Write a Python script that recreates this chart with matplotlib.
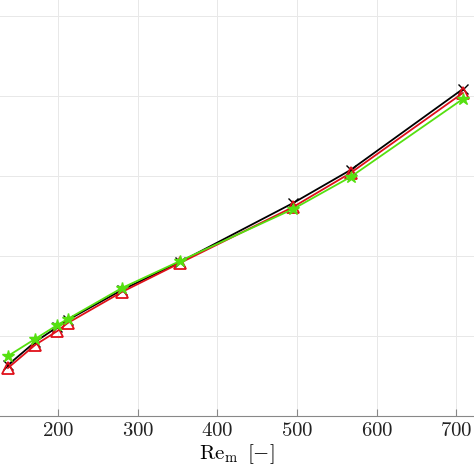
import matplotlib
matplotlib.use("Agg")
import matplotlib.pyplot as plt

plt.rcParams['mathtext.fontset'] = 'cm'
plt.rcParams['font.family'] = 'DejaVu Serif'

re_m = [137, 171, 199, 212, 280, 353, 495, 567, 708]
py_black = [365, 342, 327, 320, 290, 262, 203, 170, 89]
py_red = [368, 345, 331, 323, 292, 263, 207, 173, 93]
py_green = [356, 339, 325, 319, 288, 261, 209, 177, 99]
black = [(416 - p) / 80 for p in py_black]
red = [(416 - p) / 80 for p in py_red]
green = [(416 - p) / 80 for p in py_green]
xticks = [200, 300, 400, 500, 600, 700]

fig = plt.figure(figsize=(4.74, 4.74), dpi=100)
ax = fig.add_axes([0.0, 58/474, 1.0, 416/474])
ax.plot(re_m, black, color='black', marker='x', ms=7, lw=1.3)
ax.plot(re_m, red, color='#e0101a', marker='^', mfc='none', ms=8, mew=1.3, lw=1.3)
ax.plot(re_m, green, color='#55e010', marker='*', ms=9, lw=1.3)
ax.set_xlim(127, 722)
ax.set_ylim(0, 5.2)
ax.set_xticks(xticks)
ax.set_xticklabels([rf'$\mathrm{{{t}}}$' for t in xticks])
ax.set_yticks([1, 2, 3, 4, 5])
ax.set_yticklabels([])
ax.grid(True, color='#e8e8e8', lw=0.7)
for s in ['top', 'left', 'right']:
    ax.spines[s].set_visible(False)
ax.spines['bottom'].set_color('#888888')
ax.tick_params(axis='x', direction='in', length=5, color='#888888', labelsize=15, labelcolor='#222222')
ax.tick_params(axis='y', length=0)
ax.set_xlabel(r'$\mathrm{Re}_\mathrm{m}\ \,[\mathrm{-}]$', fontsize=15, labelpad=2)
fig.savefig('out.png', dpi=100)
